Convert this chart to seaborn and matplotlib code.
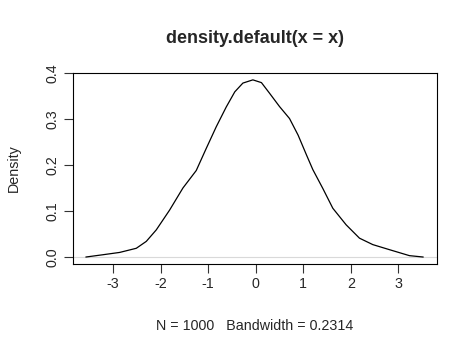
import numpy as np
import seaborn as sns
import matplotlib.pyplot as plt

# density curve
dens_x = [-3.57, -3.21, -2.86, -2.51, -2.30, -2.09, -1.81, -1.53, -1.25, -1.04,
          -0.83, -0.62, -0.44, -0.27, -0.06, 0.12, 0.29, 0.50, 0.71, 0.89,
          1.07, 1.20, 1.41, 1.62, 1.90, 2.18, 2.46, 2.81, 3.23, 3.52]
dens_y = [0.000, 0.005, 0.010, 0.019, 0.034, 0.059, 0.102, 0.150, 0.188, 0.236,
          0.283, 0.326, 0.359, 0.378, 0.385, 0.379, 0.356, 0.327, 0.301, 0.265,
          0.221, 0.190, 0.149, 0.106, 0.070, 0.041, 0.027, 0.016, 0.003, 0.000]
x_ticks = [-3, -2, -1, 0, 1, 2, 3]
y_ticks = [0.0, 0.1, 0.2, 0.3, 0.4]

sns.set_style("ticks")
plt.rcParams['font.family'] = ['Liberation Sans', 'DejaVu Sans']

fig = plt.figure(figsize=(4.74, 3.55), dpi=100)
ax = fig.add_axes([0.153, 0.256, 0.768, 0.539])

ax.axhline(0, color='#d9d9d9', lw=0.8, zorder=1)
sns.lineplot(x=dens_x, y=dens_y, sort=False, color='black', lw=0.9, ax=ax)

ax.set_xlim(-3.85, 3.80)
ax.set_ylim(-0.0154, 0.4004)
ax.set_xticks(x_ticks)
ax.set_xticklabels([str(v) for v in x_ticks])
ax.set_yticks(y_ticks)
ax.set_yticklabels([f"{v:.1f}" for v in y_ticks], rotation=90, va='center')

for s in ax.spines.values():
    s.set_visible(True)
    s.set_color('black')
    s.set_linewidth(0.8)
ax.tick_params(length=6.5, width=0.8, color='#333333', labelsize=10.3, pad=3)

ax.text(0.5, 1.178, "density.default(x = x)", transform=ax.transAxes,
        ha='center', va='center', fontsize=13, fontweight='bold')
ax.set_xlabel("N = 1000   Bandwidth = 0.2314", fontsize=10.3, va='center')
ax.xaxis.set_label_coords(0.5, -0.325)
ax.set_ylabel("Density", fontsize=10.3, va='center')
ax.yaxis.set_label_coords(-0.161, 0.5)

fig.savefig("out.png", dpi=100)
